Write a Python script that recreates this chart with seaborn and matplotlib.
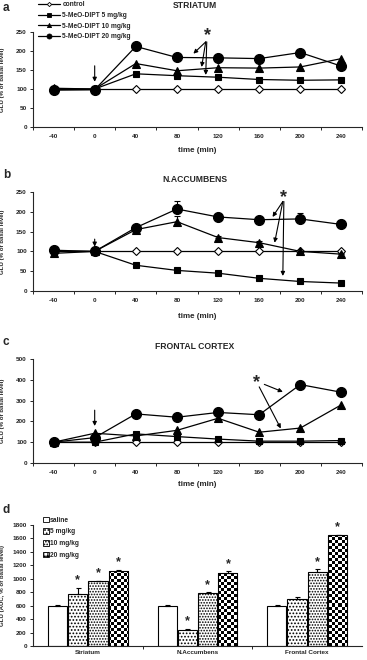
import numpy as np
import pandas as pd
import matplotlib
matplotlib.use('Agg')
import matplotlib.pyplot as plt
import seaborn as sns
from matplotlib.lines import Line2D
from matplotlib.patches import Patch

# time course (% of basal level)
time = [-40, 0, 40, 80, 120, 160, 200, 240]
groups = ['control', '5-MeO-DIPT 5 mg/kg', '5-MeO-DIPT 10 mg/kg', '5-MeO-DIPT 20 mg/kg']

str_ctrl = [100, 100, 100, 100, 100, 100, 100, 100]
str_5 = [100, 100, 140, 135, 131, 125, 123, 124]
str_10 = [102, 100, 167, 148, 156, 155, 158, 180]
str_20 = [97, 98, 212, 183, 182, 180, 196, 160]

acc_ctrl = [100, 100, 100, 100, 100, 100, 100, 100]
acc_5 = [100, 100, 65, 52, 45, 32, 24, 20]
acc_10 = [95, 100, 155, 175, 135, 122, 100, 93]
acc_20 = [103, 100, 160, 207, 187, 180, 182, 168]
acc_10_err = [0, 0, 3, 15, 4, 4, 3, 3]
acc_20_err = [0, 0, 4, 21, 5, 5, 15, 12]

fc_ctrl = [100, 100, 100, 100, 100, 100, 100, 100]
fc_5 = [100, 100, 140, 127, 115, 105, 105, 108]
fc_10 = [100, 143, 130, 157, 215, 148, 168, 280]
fc_20 = [100, 122, 236, 220, 243, 232, 377, 340]

# AUC bars
regions = ['Striatum', 'N.Accumbens', 'Frontal Cortex']
doses = ['saline', '5 mg/kg', '10 mg/kg', '20 mg/kg']
auc_saline = [600, 600, 600]
auc_5 = [780, 240, 700]
auc_10 = [965, 790, 1095]
auc_20 = [1110, 1090, 1645]
err_saline = [10, 10, 10]
err_5 = [85, 12, 22]
err_10 = [8, 12, 45]
err_20 = [20, 20, 12]
signif = [[False, True, True, True], [False, True, True, True], [False, False, True, True]]

sns.set_style('ticks')
plt.rcParams['font.family'] = ['Liberation Sans', 'DejaVu Sans']
plt.rcParams['font.weight'] = 'bold'
plt.rcParams['hatch.linewidth'] = 0.8
plt.rcParams['axes.unicode_minus'] = False

W, H = 367, 660
fig = plt.figure(figsize=(W / 100, H / 100), dpi=100)


def box(left, top, right, bottom):
    return [left / W, 1 - bottom / H, (right - left) / W, (bottom - top) / H]


markers = {'control': ('D', 4.3, 'white'),
           '5-MeO-DIPT 5 mg/kg': ('s', 5.0, 'black'),
           '5-MeO-DIPT 10 mg/kg': ('^', 6.0, 'black'),
           '5-MeO-DIPT 20 mg/kg': ('o', 7.2, 'black')}


def style_axis(ax, ymax, ystep, ylabel):
    sns.despine(ax=ax)
    for s in ['left', 'bottom']:
        ax.spines[s].set_linewidth(0.8)
    ax.set_ylim(0, ymax)
    ax.set_yticks(np.arange(0, ymax + 1, ystep))
    ax.tick_params(axis='y', labelsize=4.6, length=2.5, width=0.7, pad=2)
    ax.set_ylabel(ylabel, fontsize=4.4, fontweight='bold')
    ax.yaxis.set_label_coords(-0.085, 0.5)


def time_panel(ax, series, errs):
    for name, vals in zip(groups, series):
        mk, ms, fc = markers[name]
        sns.lineplot(x=time, y=vals, ax=ax, color='black', lw=0.9, marker=mk,
                     markersize=ms, markerfacecolor=fc, markeredgecolor='black',
                     markeredgewidth=0.8)
        if name in errs:
            ax.errorbar(time, vals, yerr=[np.zeros(len(vals)), errs[name]], fmt='none',
                        ecolor='black', elinewidth=0.8, capsize=2, capthick=0.8, zorder=1)
    ax.set_xlim(-60, 260)
    ax.set_xticks(time)
    ax.set_xticks(np.arange(-60, 261, 40), minor=True)
    ax.tick_params(axis='x', which='major', length=0, labelsize=4.6, pad=5)
    ax.tick_params(axis='x', which='minor', length=2.5, width=0.7)
    ax.set_xlabel('')


def arrow(ax, tip, start, lw=0.8):
    ax.annotate('', xy=tip, xytext=start,
                arrowprops=dict(arrowstyle='-|>', color='black', lw=lw,
                                mutation_scale=6, shrinkA=0, shrinkB=0))


# ---- a: striatum
ax_a = fig.add_axes(box(33, 32, 362, 127))
time_panel(ax_a, [str_ctrl, str_5, str_10, str_20], {})
style_axis(ax_a, 250, 50, 'GLU (% of basal level)')
arrow(ax_a, (0, 119), (0, 161))
ax_a.text(110, 218, '*', fontsize=13, ha='center', va='bottom')
arrow(ax_a, (96, 193), (108, 224))
arrow(ax_a, (104, 158), (108, 224))
arrow(ax_a, (108, 137), (109, 224))

handles = [Line2D([0], [0], color='black', lw=0.9, marker=markers[g][0],
                  markersize=markers[g][1] * 0.5, markerfacecolor=markers[g][2],
                  markeredgecolor='black', markeredgewidth=0.6) for g in groups]
fig.legend(handles, groups, loc='upper left', bbox_to_anchor=(37 / W, 1 - 0 / H),
           frameon=False, fontsize=4.8, handlelength=3.2, handletextpad=0.4,
           labelspacing=0.55, borderaxespad=0, borderpad=0.2)

# ---- b: n. accumbens
ax_b = fig.add_axes(box(33, 192, 362, 291))
time_panel(ax_b, [acc_ctrl, acc_5, acc_10, acc_20],
           {'5-MeO-DIPT 10 mg/kg': acc_10_err, '5-MeO-DIPT 20 mg/kg': acc_20_err})
style_axis(ax_b, 250, 50, 'GLU (% of basal level)')
arrow(ax_b, (0, 112), (0, 131))
ax_b.text(184, 215, '*', fontsize=13, ha='center', va='bottom')
arrow(ax_b, (173, 187), (183, 226))
arrow(ax_b, (175, 122), (183, 226))
arrow(ax_b, (183, 38), (184, 226))

# ---- c: frontal cortex
ax_c = fig.add_axes(box(33, 359, 362, 463))
time_panel(ax_c, [fc_ctrl, fc_5, fc_10, fc_20], {})
style_axis(ax_c, 500, 100, 'GLU (% of basal level)')
arrow(ax_c, (0, 178), (0, 254))
ax_c.text(157, 345, '*', fontsize=13, ha='center', va='bottom')
arrow(ax_c, (183, 342), (165, 378))
arrow(ax_c, (181, 166), (160, 366))

# ---- d: AUC bars
df = pd.DataFrame({
    'region': regions * 4,
    'dose': np.repeat(doses, 3),
    'auc': auc_saline + auc_5 + auc_10 + auc_20,
})
ax_d = fig.add_axes(box(33, 525, 362, 646))
sns.barplot(data=df, x='region', y='auc', hue='dose', order=regions, hue_order=doses,
            palette=['white'] * 4, saturation=1, width=0.74, gap=0.06,
            edgecolor='black', linewidth=0.8, errorbar=None, legend=False, ax=ax_d)
style_axis(ax_d, 1800, 200, 'GLU (AUC, % of basal level)')
ax_d.set_xlim(-0.5, 2.5)
ax_d.set_xlabel('')
ax_d.tick_params(axis='x', labelsize=4.6, length=0, pad=3)
ax_d.set_xticks([0.5, 1.5], minor=True)
ax_d.tick_params(axis='x', which='minor', length=2.5, width=0.7)

hatches = ['', '.....', '......', '']
vals_all = [auc_saline, auc_5, auc_10, auc_20]
errs_all = [err_saline, err_5, err_10, err_20]
ylim = ax_d.get_ylim()
xlim = ax_d.get_xlim()
checker = np.indices((40, 110)).sum(axis=0) % 2
bar_sets = list(ax_d.containers)
for k, cont in enumerate(bar_sets):
    xs = [p.get_x() + p.get_width() / 2 for p in cont]
    for p in cont:
        p.set_hatch(hatches[k])
    ax_d.errorbar(xs, vals_all[k], yerr=[np.zeros(3), errs_all[k]], fmt='none',
                  ecolor='black', elinewidth=0.8, capsize=1.8, capthick=0.8, zorder=4)
    if k == 3:
        for p in cont:
            p.set_facecolor('none')
            p.set_zorder(3)
            im = ax_d.imshow(checker, cmap='gray_r', extent=(xlim[0], xlim[1], ylim[0], ylim[1]),
                             aspect='auto', interpolation='nearest', origin='lower', zorder=2)
            im.set_clip_path(p)
    for j, x in enumerate(xs):
        if signif[j][k]:
            ax_d.annotate('*', (x, vals_all[k][j] + errs_all[k][j]), xytext=(0, 1),
                          textcoords='offset points', ha='center', va='bottom', fontsize=9)
ax_d.set_xlim(xlim)
ax_d.set_ylim(ylim)

leg_handles = [Patch(facecolor='white', edgecolor='black', lw=0.6, hatch=h)
               for h in ['', '.....', '......', '++++']]
ax_d.legend(leg_handles, doses, loc='upper left', bbox_to_anchor=(10 / 329, 1.07),
            frameon=False, fontsize=4.8, handlelength=0.9, handleheight=0.9,
            handletextpad=0.15, labelspacing=0.7, borderaxespad=0, borderpad=0)

# titles, axis labels, panel letters
for y, t in [(6, 'STRIATUM'), (179, 'N.ACCUMBENS'), (346, 'FRONTAL CORTEX')]:
    fig.text(195 / W, 1 - y / H, t, ha='center', va='center', fontsize=6.2, fontweight='bold')
for y in [150, 317, 484]:
    fig.text(197 / W, 1 - y / H, 'time (min)', ha='center', va='center', fontsize=5.8,
             fontweight='bold')
for y, t in [(8, 'a'), (175, 'b'), (342, 'c'), (510, 'd')]:
    fig.text(3 / W, 1 - y / H, t, ha='left', va='center', fontsize=8.5, fontweight='bold')

fig.savefig('out.png', dpi=100)
